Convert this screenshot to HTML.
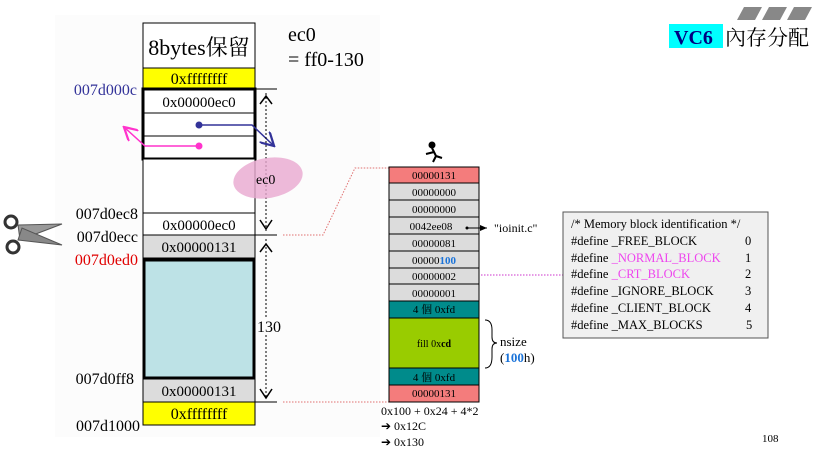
<!DOCTYPE html>
<html><head><meta charset="utf-8"><style>
body{margin:0;background:#fff}
svg text{font-family:"Liberation Serif","Noto Serif CJK SC",serif}
</style></head><body>
<svg width="821" height="455" xmlns="http://www.w3.org/2000/svg">
<defs>
<marker id="ab" markerWidth="10" markerHeight="10" refX="8" refY="5" orient="auto"><path d="M0,0 L9,5 L0,10" fill="none" stroke="#333399" stroke-width="1.5"/></marker>
<marker id="am" markerWidth="10" markerHeight="10" refX="8" refY="5" orient="auto"><path d="M0,0 L9,5 L0,10" fill="none" stroke="#ff33cc" stroke-width="1.5"/></marker>
<marker id="ak" markerWidth="8" markerHeight="8" refX="7" refY="4" orient="auto"><path d="M0,1 L7,4 L0,7z" fill="#000"/></marker>
</defs>
<rect x="55" y="15" width="325" height="422" fill="#fcfcfc"/>
<!-- left column -->
<rect x="143" y="23" width="112" height="45" fill="#fff" stroke="#000"/>
<text x="199" y="55" font-size="22" text-anchor="middle">8bytes保留</text>
<rect x="143" y="68" width="112" height="21" fill="#ffff00" stroke="#000"/>
<text x="199" y="84" font-size="16" text-anchor="middle">0xffffffff</text>
<rect x="143" y="89" width="112" height="70" fill="#fff" stroke="#000" stroke-width="3"/>
<line x1="143" y1="113" x2="255" y2="113" stroke="#000"/>
<line x1="143" y1="136" x2="255" y2="136" stroke="#000"/>
<text x="199" y="107" font-size="15" text-anchor="middle">0x00000ec0</text>
<rect x="143" y="159" width="112" height="54" fill="#fff" stroke="#000"/>
<rect x="143" y="213" width="112" height="22" fill="#fff" stroke="#000"/>
<text x="199" y="230" font-size="15" text-anchor="middle">0x00000ec0</text>
<rect x="143" y="235" width="112" height="23" fill="#dcdcdc" stroke="#000"/>
<text x="199" y="252" font-size="15" text-anchor="middle">0x00000131</text>
<rect x="144" y="260" width="110" height="118" fill="#bde2e6" stroke="#000" stroke-width="3"/>
<rect x="143" y="379" width="112" height="23" fill="#dcdcdc" stroke="#000"/>
<text x="199" y="396" font-size="15" text-anchor="middle">0x00000131</text>
<rect x="143" y="402" width="112" height="23" fill="#ffff00" stroke="#000"/>
<text x="199" y="419" font-size="16" text-anchor="middle">0xffffffff</text>
<circle cx="199" cy="125" r="3.5" fill="#333399"/>
<path d="M199,125 H252 L273,145" fill="none" stroke="#333399" stroke-width="1.5" marker-end="url(#ab)"/>
<circle cx="199" cy="146" r="3.5" fill="#ff33cc"/>
<path d="M199,146 H145 L125,128" fill="none" stroke="#ff33cc" stroke-width="1.5" marker-end="url(#am)"/>
<line x1="255" y1="89" x2="277" y2="89" stroke="#000"/>
<line x1="255" y1="235" x2="277" y2="235" stroke="#000"/>
<line x1="255" y1="402" x2="277" y2="402" stroke="#000"/>
<line x1="266" y1="93" x2="266" y2="232" stroke="#000" stroke-dasharray="2,2"/>
<line x1="266" y1="239" x2="266" y2="399" stroke="#000" stroke-dasharray="2,2"/>
<path d="M260,104 L266,96 L272,104 M260,220 L266,229 L272,220 M260,252 L266,244 L272,252 M260,389 L266,398 L272,389" fill="none" stroke="#000" stroke-width="1.5"/>
<ellipse cx="268" cy="178" rx="35" ry="20" fill="#e8a8d0" opacity="0.8" transform="rotate(-10 268 178)"/>
<text x="256" y="184" font-size="14">ec0</text>
<rect x="258" y="318" width="20" height="16" fill="#fcfcfc"/>
<text x="257" y="332" font-size="16">130</text>
<text x="288" y="41" font-size="20">ec0</text>
<text x="288" y="66" font-size="20">= ff0-130</text>
<text x="137" y="95" font-size="16" text-anchor="end" fill="#333399">007d000c</text>
<text x="138" y="219" font-size="16" text-anchor="end">007d0ec8</text>
<text x="138" y="242" font-size="16" text-anchor="end">007d0ecc</text>
<text x="138" y="265" font-size="16" text-anchor="end" fill="#e00000">007d0ed0</text>
<text x="134" y="384" font-size="16" text-anchor="end">007d0ff8</text>
<text x="140" y="431" font-size="16" text-anchor="end">007d1000</text>
<g stroke="#333" stroke-width="3" fill="none"><circle cx="11" cy="222" r="6"/><circle cx="13" cy="247" r="6"/></g>
<path d="M18,225 L62,224 L20,240z" fill="#999" stroke="#555"/>
<path d="M18,240 L62,245 L22,228z" fill="#888" stroke="#555"/>
<path d="M283,235 H323 L355,168 H389" fill="none" stroke="#e07070" stroke-dasharray="1.5,1.5"/>
<line x1="283" y1="402" x2="389" y2="402" stroke="#e07070" stroke-dasharray="1.5,1.5"/>
<line x1="469" y1="275" x2="563" y2="275" stroke="#cc33cc" stroke-dasharray="1.5,1.5"/>
<g font-size="11" text-anchor="middle">
<rect x="389" y="167" width="90" height="16" fill="#f47c7c" stroke="#000"/><text x="434" y="179">00000131</text>
<rect x="389" y="183" width="90" height="118" fill="#dcdcdc" stroke="#000"/>
<g stroke="#000"><line x1="389" y1="200" x2="479" y2="200"/><line x1="389" y1="217" x2="479" y2="217"/><line x1="389" y1="234" x2="479" y2="234"/><line x1="389" y1="251" x2="479" y2="251"/><line x1="389" y1="268" x2="479" y2="268"/><line x1="389" y1="284" x2="479" y2="284"/></g>
<text x="434" y="196">00000000</text>
<text x="434" y="213">00000000</text>
<text x="431" y="230">0042ee08</text>
<text x="434" y="247">00000081</text>
<text x="434" y="264">00000<tspan fill="#1a73d9" font-weight="bold">100</tspan></text>
<text x="434" y="280">00000002</text>
<text x="434" y="297">00000001</text>
<rect x="389" y="301" width="90" height="17" fill="#008b8b" stroke="#000"/><text x="434" y="313">4 個 0xfd</text>
<rect x="389" y="318" width="90" height="50" fill="#99cc00" stroke="#000"/><text x="434" y="347" font-size="10">fill 0x<tspan font-weight="bold">cd</tspan></text>
<rect x="389" y="368" width="90" height="17" fill="#008b8b" stroke="#000"/><text x="434" y="381">4 個 0xfd</text>
<rect x="389" y="385" width="90" height="17" fill="#f47c7c" stroke="#000"/><text x="434" y="397">00000131</text>
</g>
<circle cx="467" cy="228" r="1.5" fill="#000"/>
<line x1="467" y1="228" x2="487" y2="228" stroke="#000" marker-end="url(#ak)"/>
<text x="494" y="232" font-size="12">"ioinit.c"</text>
<path d="M485,320 Q492,320 492,330 V337 Q492,343 497,343 Q492,343 492,349 V357 Q492,368 485,368" fill="none" stroke="#000"/>
<text x="500" y="346" font-size="13">nsize</text>
<text x="500" y="362" font-size="13">(<tspan fill="#1a73d9" font-weight="bold">100</tspan>h)</text>
<text x="381" y="415" font-size="12">0x100 + 0x24 + 4*2</text>
<text x="381" y="430" font-size="12">➔ 0x12C</text>
<text x="381" y="446" font-size="12">➔ 0x130</text>
<!-- stick figure -->
<g stroke="#000" stroke-width="2" fill="none"><circle cx="432" cy="145" r="2.5" fill="#000"/><path d="M432,148 L436,156 L442,158 M434,152 L426,154 M436,156 L433,162"/></g>
<rect x="563" y="212" width="205" height="126" fill="#f0f0f0" stroke="#555"/>
<g font-size="12.5">
<text x="571" y="228">/* Memory block identification */</text>
<text x="571" y="245">#define _FREE_BLOCK</text><text x="745" y="245">0</text>
<text x="571" y="262">#define <tspan fill="#ee44ee">_NORMAL_BLOCK</tspan></text><text x="745" y="262">1</text>
<text x="571" y="278">#define <tspan fill="#ee44ee">_CRT_BLOCK</tspan></text><text x="745" y="278">2</text>
<text x="571" y="295">#define _IGNORE_BLOCK</text><text x="745" y="295">3</text>
<text x="571" y="312">#define _CLIENT_BLOCK</text><text x="745" y="312">4</text>
<text x="571" y="329">#define _MAX_BLOCKS</text><text x="746" y="329">5</text>
</g>
<g fill="#888"><path d="M737,20 L744,7 H762 L755,20z"/><path d="M762,20 L769,7 H787 L780,20z"/><path d="M787,20 L794,7 H812 L805,20z"/></g>
<rect x="669" y="24" width="54" height="24" fill="#00ffff"/>
<text x="674" y="44" font-size="20" font-weight="bold" fill="#000080">VC6</text>
<text x="725" y="45" font-size="21" font-family="'Liberation Sans','Noto Sans CJK TC',sans-serif">內存分配</text>
<text x="762" y="442" font-size="11" font-family="'Liberation Sans',sans-serif">108</text>
</svg>
</body></html>
